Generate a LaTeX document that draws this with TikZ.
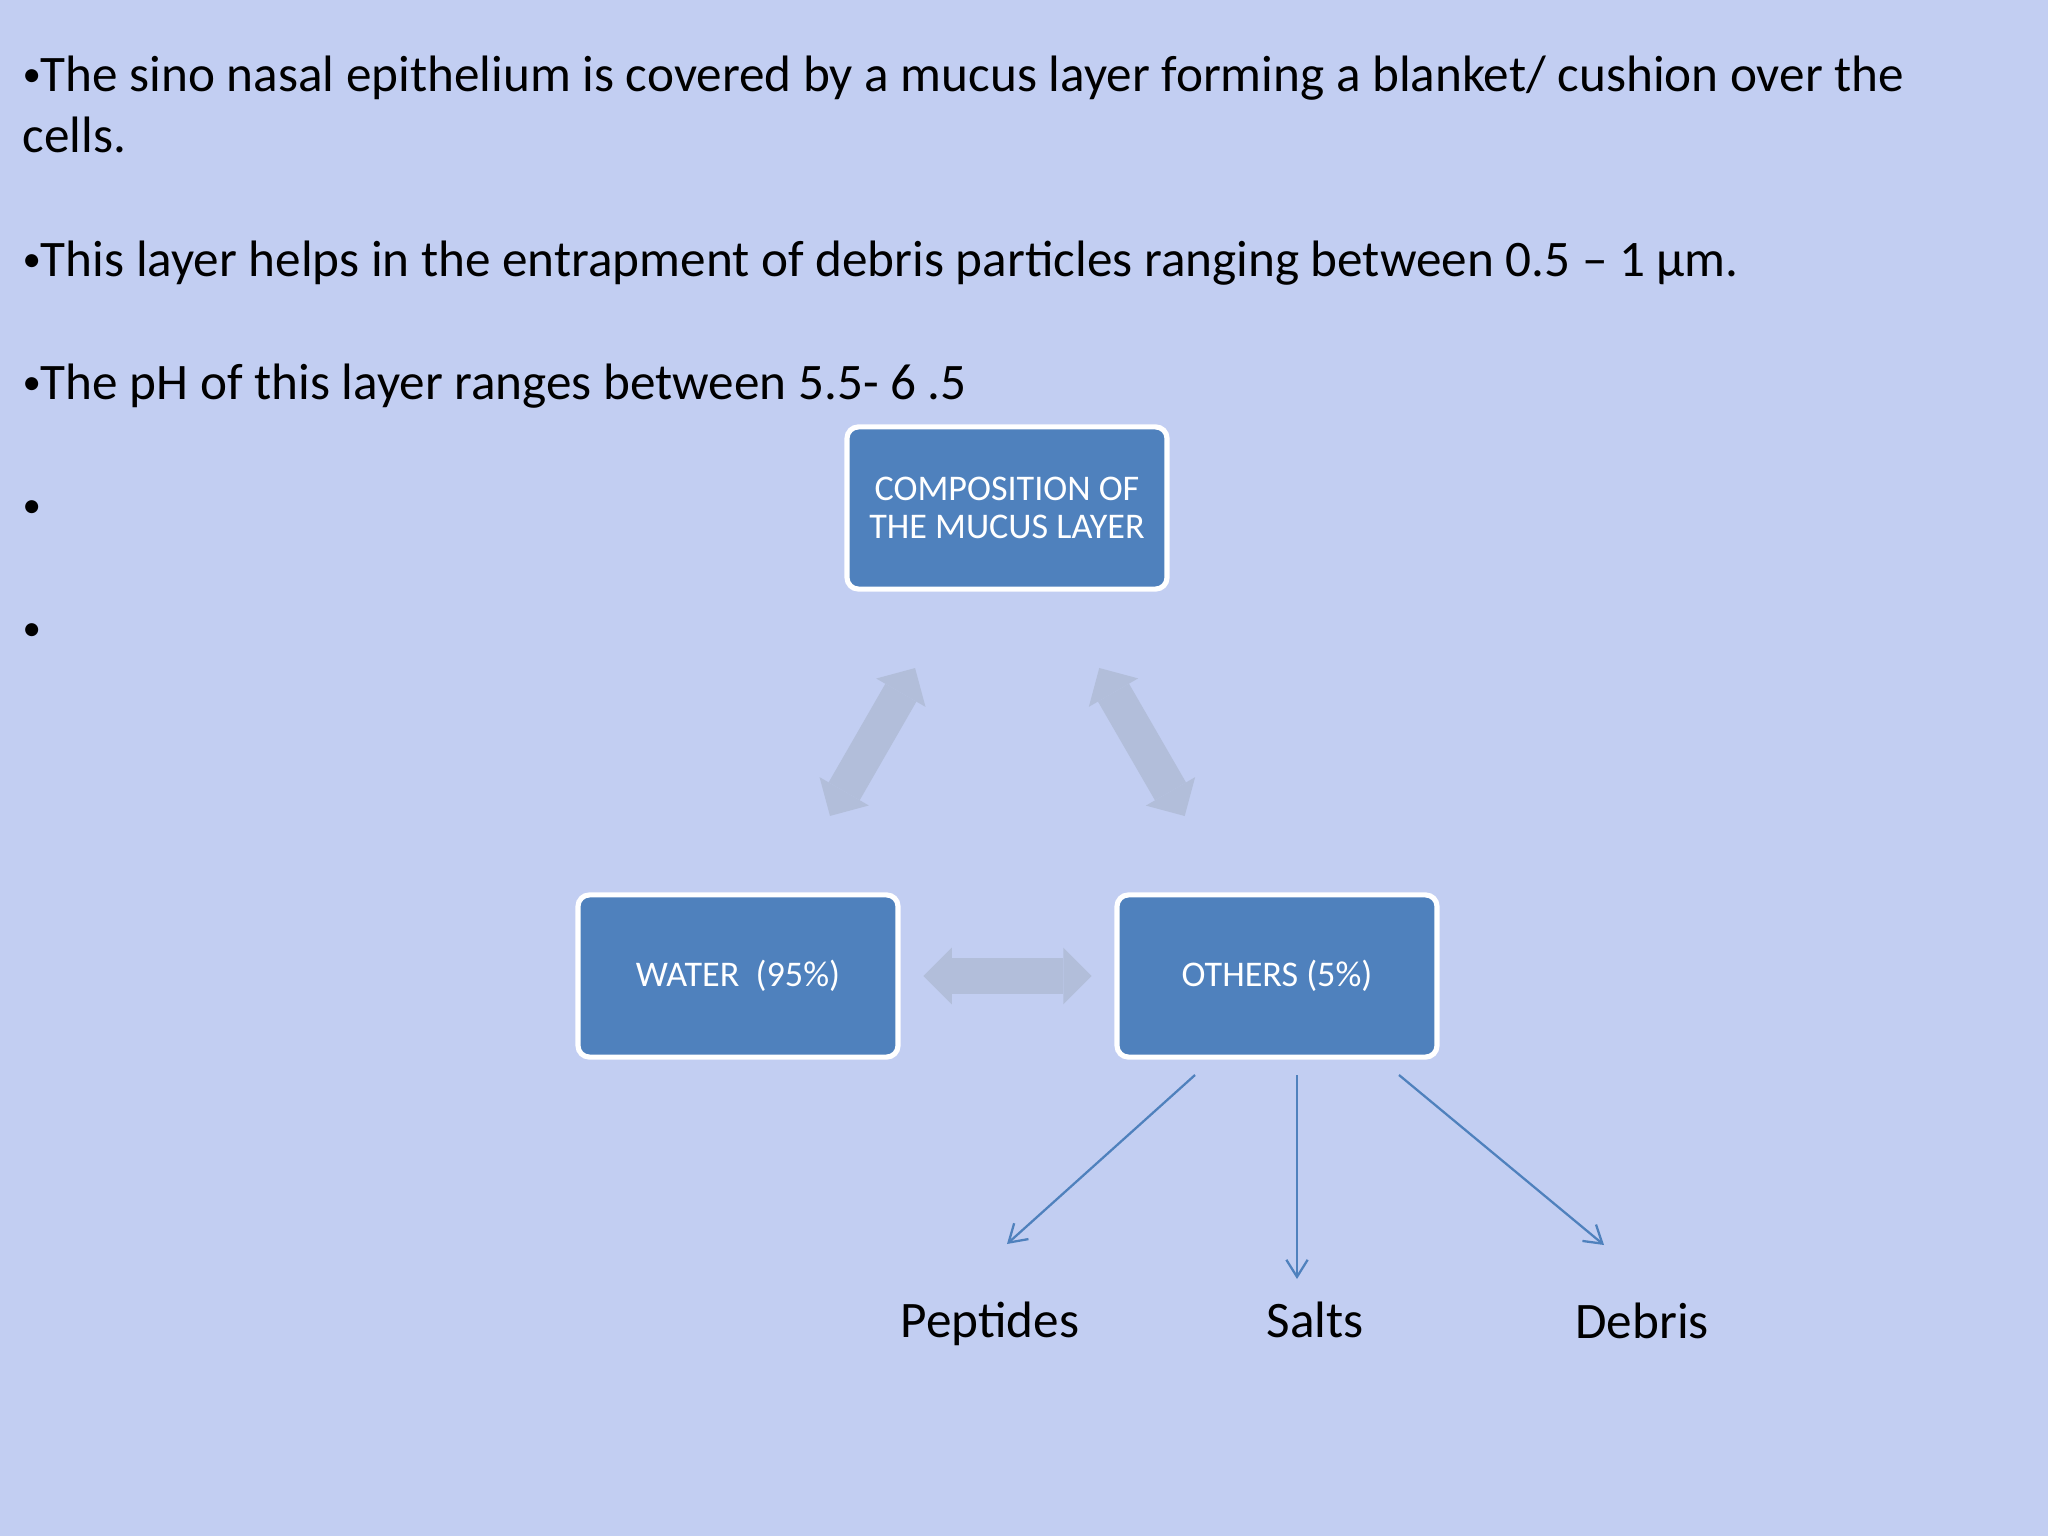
\documentclass[tikz,border=0pt]{standalone}
\usepackage{fontspec}
\setmainfont{Carlito}
\usetikzlibrary{positioning,arrows.meta}
\definecolor{slidebg}{RGB}{194,206,242}
\definecolor{boxblue}{RGB}{79,129,189}
\definecolor{fatgray}{RGB}{178,190,218}
\newcommand{\slidebul}{\raisebox{0.1em}{\scalebox{0.72}{•}}}
\tikzset{
  slidetext/.style={font=\fontsize{18}{21.6}\selectfont, inner sep=0pt,
    text=black},
  mucbox/.style={draw=white, line width=1.8pt, rounded corners=4pt,
    fill=boxblue, text=white, font=\fontsize{12.7}{13.4}\selectfont,
    align=center, minimum width=112.5pt, minimum height=57pt, inner sep=2pt},
  fatarr/.style={draw=fatgray, line width=12.6pt,
    {Triangle[length=10pt,width=20pt,line width=0pt]}-{Triangle[length=10pt,width=20pt,line width=0pt]}},
  thinarr/.style={draw=boxblue, line width=0.8pt,
    -{Straight Barb[length=6pt,width=7.5pt]}},
}

\begin{document}
\begin{tikzpicture}[x=0.3515625pt, y=-0.3515625pt]
  % Slide background
  \fill[slidebg] (0,0) rectangle (2048,1536);
  \useasboundingbox (0,0) rectangle (2048,1536);
  % Bullet text
  \node[slidetext, anchor=base west] at (22,92) (bulA)
    {\slidebul The sino nasal epithelium is covered by a mucus layer forming a blanket/ cushion over the};
  \node[slidetext, anchor=base west] at (22,153) (bulAb) {cells.};
  \node[slidetext, anchor=base west] at (22,277) (bulB)
    {\slidebul This layer helps in the entrapment of debris particles ranging between 0.5 – 1 µm.};
  \node[slidetext, anchor=base west] at (22,400) (bulC)
    {\slidebul The pH of this layer ranges between 5.5- 6 .5};
  \node[slidetext, anchor=base west] at (22,523) (bulD) {\slidebul};
  \node[slidetext, anchor=base west] at (22,646) (bulE) {\slidebul};
  % Boxes
  \node[mucbox] at (1007,508) (comp) {COMPOSITION OF\\THE MUCUS LAYER};
  \node[mucbox] at (738,976) (water) {WATER\ \ (95\%)};
  \node[mucbox] at (1277,976) (others) {OTHERS (5\%)};
  % Fat double arrows
  \draw[fatarr, shorten <=31pt, shorten >=31pt] (comp) -- (water);
  \draw[fatarr, shorten <=31pt, shorten >=31pt] (comp) -- (others);
  \draw[fatarr, shorten <=8pt, shorten >=8pt] (water) -- (others);
  % Components
  \node[slidetext, anchor=base] at (990,1337) (pept) {Peptides};
  \node[slidetext, anchor=base] at (1315,1337) (salts) {Salts};
  \node[slidetext, anchor=base] at (1642,1338) (debris) {Debris};
  \coordinate (peptfrom) at (1195,1075);
  \coordinate (peptto) at (1007,1244);
  \coordinate (saltsfrom) at (1297,1075);
  \coordinate (saltsto) at (1297,1279);
  \coordinate (debrisfrom) at (1399,1075);
  \coordinate (debristo) at (1604,1245);
  \draw[thinarr] (peptfrom) -- (peptto);
  \draw[thinarr] (saltsfrom) -- (saltsto);
  \draw[thinarr] (debrisfrom) -- (debristo);
\end{tikzpicture}
\end{document}
